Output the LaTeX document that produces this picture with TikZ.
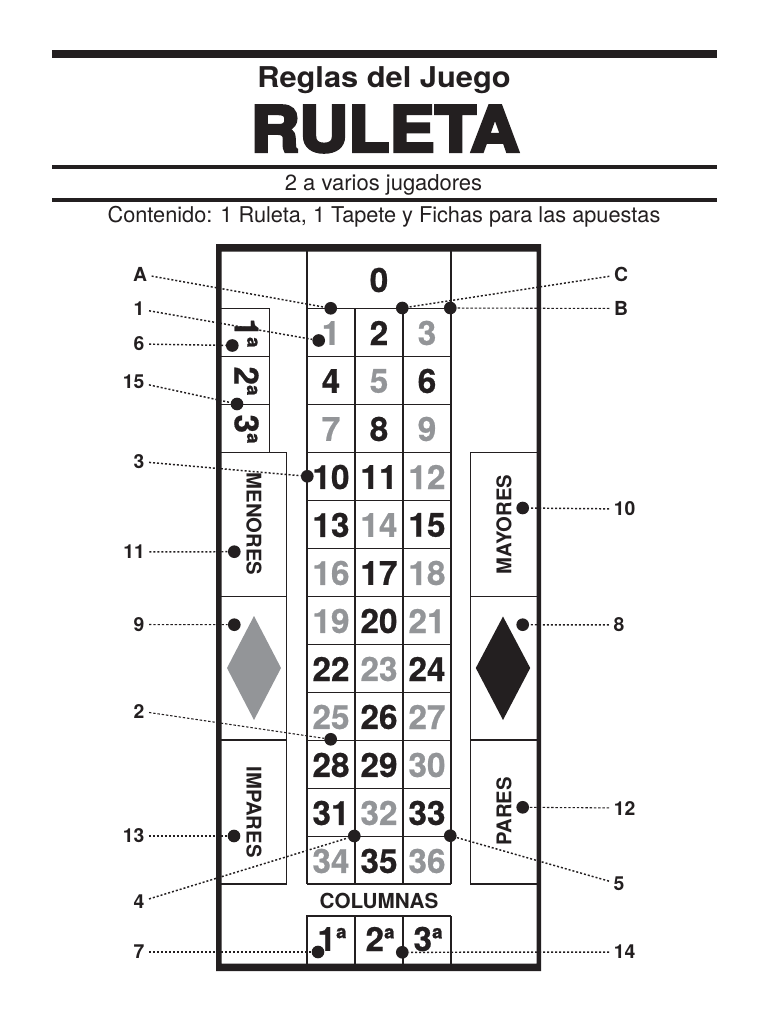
\documentclass[tikz,border=0pt]{standalone}
\usepackage{fontspec}
\setmainfont{TeX Gyre Heros}
\newfontfamily\heavy[FakeBold=5,FakeStretch=1.08]{TeX Gyre Heros Bold}
\newfontfamily\titlef[FakeStretch=1.075]{TeX Gyre Heros Bold}
\newfontfamily\numf[FakeBold=0.6]{TeX Gyre Heros Bold}
\usetikzlibrary{shapes.geometric}
\definecolor{ink}{HTML}{231F20}
\definecolor{pale}{HTML}{939598}
\tikzset{x=0.75pt,y=-0.75pt,
 cellline/.style={draw=ink,line width=1.1pt},
 thinline/.style={draw=ink,line width=0.85pt},
 numcell/.style={font=\numf\fontsize{25}{25}\selectfont,text=ink,inner sep=0pt},
 grey/.style={text=pale},
 plain/.style={},
 dot/.style={circle,fill=ink,minimum size=9.5pt,inner sep=0pt},
 lbl/.style={font=\bfseries\fontsize{14.5}{14.5}\selectfont,text=ink,inner sep=0pt,outer sep=3.5pt},
 leader/.style={draw=ink,line width=1.1pt,dash pattern=on 1.5pt off 1.5pt},
 fine/.style={draw=ink,line width=0.8pt,dash pattern=on 1.8pt off 1.4pt},
 vert/.style={font=\bfseries\fontsize{15.2}{15.2}\selectfont,text=ink,inner sep=0pt},
 ord/.style={font=\numf\fontsize{25}{25}\selectfont,text=ink,inner sep=0pt}}
\newcommand{\ordn}[1]{#1\raisebox{9.5pt}{\fontsize{14}{14}\selectfont a}}
\begin{document}
\begin{tikzpicture}
\useasboundingbox (0,0) rectangle (768,1024);
\fill[white] (0,0) rectangle (768,1024);
% header
\fill[ink] (52,50) rectangle (717,58);
\fill[ink] (52,165) rectangle (717,169);
\fill[ink] (52,198) rectangle (717,202);
\node[font=\titlef\fontsize{21.5}{21.5}\selectfont,text=ink,inner sep=0pt,anchor=base] (title) at (384,88) {Reglas del Juego};
\node[font=\heavy\fontsize{47}{47}\selectfont,text=ink,inner sep=0pt,anchor=base] (game) at (385,151.5) {RULETA};
\node[font=\fontsize{16.5}{16.5}\selectfont,text=ink,inner sep=0pt,anchor=base] (players) at (383.5,190.5) {2 a varios jugadores};
\node[font=\fontsize{16.3}{16.3}\selectfont,text=ink,inner sep=0pt,anchor=base] (content) at (384,222.5) {Contenido: 1 Ruleta, 1 Tapete y Fichas para las apuestas};
% grid
\foreach \y in {308.5,356.5,404.5,452.5,500.5,548.5,596.5,644.5,692.5,740.5,788.5,836.5,884}
  \draw[cellline] (307,\y) -- (451,\y);
\foreach \x in {307,355,403} \draw[cellline] (\x,308.5) -- (\x,884);
\draw[thinline] (451,308.5) -- (451,884);
\draw[cellline] (307,248) -- (307,308.5);
\draw[thinline] (451,248) -- (451,308.5);
% columnas box
\draw[cellline] (307,964) -- (307,916) -- (451,916);
\draw[thinline] (451,916) -- (451,964);
\draw[cellline] (355,916) -- (355,964);
\draw[cellline] (403,916) -- (403,964);
% docenas
\draw[thinline] (220,308.5) -- (269.5,308.5) -- (269.5,452.5);
\draw[thinline] (220,356.5) -- (269.5,356.5);
\draw[thinline] (220,404.5) -- (269.5,404.5);
% left boxes
\draw[thinline] (220,452.5) -- (286.5,452.5) -- (286.5,884) -- (220,884);
\draw[thinline] (220,596.5) -- (286.5,596.5);
\draw[cellline] (220,740) -- (286.5,740);
% right boxes
\draw[thinline] (538,452.5) -- (470.5,452.5) -- (470.5,884) -- (538,884);
\draw[thinline] (470.5,596.5) -- (538,596.5);
\draw[cellline] (470.5,740) -- (538,740);
% frame
\fill[ink,even odd rule] (216,244) rectangle (541,971) (221.5,251.5) rectangle (536.5,963.5);
% diamonds
\fill[pale] (254,616) -- (281,668) -- (254,720) -- (227,668) -- cycle;
\fill[ink] (503,616.5) -- (530.2,668) -- (503,720) -- (475.8,668) -- cycle;
% numbers
\node[numcell] (n0) at (379,280) {0};
\foreach \n/\x/\y/\s in {1/331/333/grey,2/379/333/plain,3/427/333/grey,
 4/331/381/plain,5/379/381/grey,6/427/381/plain,
 7/331/429/grey,8/379/429/plain,9/427/429/grey,
 10/331/477/plain,11/379/477/plain,12/427/477/grey,
 13/331/525/plain,14/379/525/grey,15/427/525/plain,
 16/331/573/grey,17/379/573/plain,18/427/573/grey,
 19/331/621/grey,20/379/621/plain,21/427/621/grey,
 22/331/669/plain,23/379/669/grey,24/427/669/plain,
 25/331/717/grey,26/379/717/plain,27/427/717/grey,
 28/331/765/plain,29/379/765/plain,30/427/765/grey,
 31/331/813/plain,32/379/813/grey,33/427/813/plain,
 34/331/861/grey,35/379/861/plain,36/427/861/grey}
  \node[numcell,\s] (n\n) at (\x,\y) {\n};
% docenas text
\node[ord,rotate=-90] (doc1) at (246.5,333) {\ordn{1}};
\node[ord,rotate=-90] (doc2) at (246.5,381) {\ordn{2}};
\node[ord,rotate=-90] (doc3) at (246.5,429) {\ordn{3}};
\node[vert,rotate=-90] (menores) at (254,524) {MENORES};
\node[vert,rotate=-90] (impares) at (254,812) {IMPARES};
\node[vert,rotate=90] (mayores) at (504,524.5) {MAYORES};
\node[vert,rotate=90] (pares) at (504,811.5) {PARES};
\node[font=\bfseries\fontsize{15.5}{15.5}\selectfont,text=ink,inner sep=0pt] (columnas) at (379,901) {COLUMNAS};
\node[ord] (col1) at (332,939) {\ordn{1}};
\node[ord] (col2) at (380,939) {\ordn{2}};
\node[ord] (col3) at (428,939) {\ordn{3}};
% dots and labels
\foreach \name/\txt/\lx/\ly/\dx/\dy/\st in {
 A/A/140/274/330.7/308.3/leader, one/1/139/309/318.7/340.5/leader, six/6/139/344/232.3/345.5/leader,
 fift/15/133.5/381.5/237/404/leader, three/3/139/461.5/307.3/476.3/leader, elev/11/134/552/234.3/551.7/leader,
 nine/9/139/624.5/234.3/624.7/fine, two/2/139/711/330.7/739.3/fine, thir/13/133.5/836/234/836/leader,
 four/4/139/902/354.3/836/leader, sev/7/139/952/318/952/leader,
 C/C/621/274.5/402.3/308/leader, B/B/621/308.5/450.3/308/fine, ten/10/624.5/509/522.7/508/leader,
 eight/8/619/625/522.7/624.7/leader, twel/12/624.5/808/522.7/807.3/fine, fiv/5/619/884/450.3/835.7/leader,
 fourt/14/624.5/952/402.3/952.3/leader}
{
  \node[dot] (p\name) at (\dx,\dy) {};
  \node[lbl] (l\name) at (\lx,\ly) {\txt};
  \draw[\st] (l\name) -- (p\name);
}
\end{tikzpicture}
\end{document}
